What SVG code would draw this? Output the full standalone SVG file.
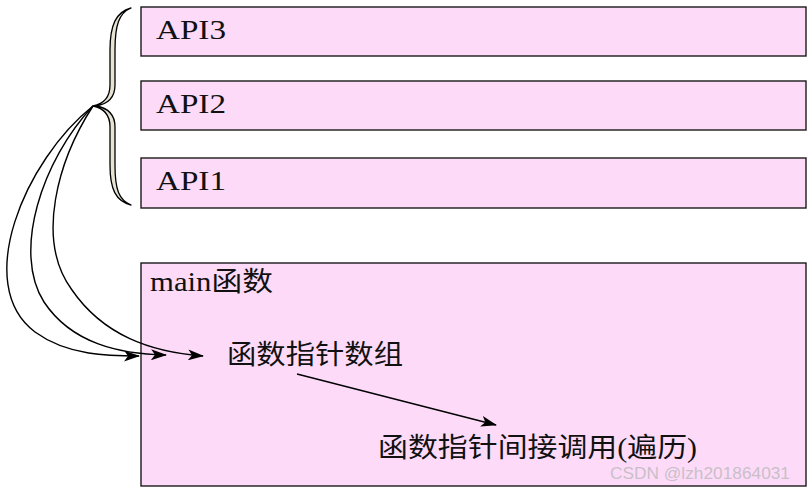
<svg xmlns="http://www.w3.org/2000/svg" width="810" height="492" viewBox="0 0 810 492">
<style>
.box{fill:#fddbf8;stroke:#1a1a1a;stroke-width:1.4}
.lbl{font-family:"Liberation Serif","Noto Serif CJK SC","Noto Sans CJK SC",serif;font-size:27px;fill:#111}
.cjk{font-family:"Liberation Serif","Noto Sans CJK SC",serif;font-size:27px;fill:#111}
.conn{fill:none;stroke:#000;stroke-width:1.4}
</style>
<defs>
<marker id="ah" viewBox="0 0 16 11" refX="15" refY="5.5" markerWidth="16" markerHeight="11" markerUnits="userSpaceOnUse" orient="auto">
<path d="M0,0 L16,5.5 L0,11 L4,5.5 Z" fill="#000"/>
</marker>
</defs>
<rect width="810" height="492" fill="#fff"/>
<g id="api3"><rect class="box" x="141" y="7" width="665" height="49"/><text class="lbl" x="156" y="39" textLength="70" lengthAdjust="spacingAndGlyphs">API3</text></g>
<g id="api2"><rect class="box" x="141" y="81" width="665" height="49"/><text class="lbl" x="156" y="113" textLength="70" lengthAdjust="spacingAndGlyphs">API2</text></g>
<g id="api1"><rect class="box" x="141" y="158" width="665" height="50"/><text class="lbl" x="156" y="190" textLength="70" lengthAdjust="spacingAndGlyphs">API1</text></g>
<g id="main"><rect class="box" x="141" y="263" width="665" height="223"/><text class="cjk" x="150" y="291" textLength="123" lengthAdjust="spacingAndGlyphs">main函数</text>
<text x="790" y="479" text-anchor="end" font-family="Liberation Sans,Arial,sans-serif" font-size="17" fill="#c8c0c8" textLength="180" lengthAdjust="spacingAndGlyphs">CSDN @lzh201864031</text></g>
<g id="array"><text class="cjk" x="227" y="364" textLength="176" lengthAdjust="spacingAndGlyphs">函数指针数组</text></g>
<g id="call"><text class="cjk" x="378" y="457" textLength="319" lengthAdjust="spacingAndGlyphs">函数指针间接调用(遍历)</text></g>
<g id="brace"><path d="M131,8 C116,12 110,25 110,50 L110,85 C110,98 103,104 93,106 C103,108 110,114 110,127 L110,165 C110,190 116,201 131,205 C119,200 115,190 115,165 L115,127 C115,115 108,108 96,106 C108,104 115,97 115,85 L115,50 C115,25 119,13 131,8 Z" fill="#e6e3d3" stroke="#000" stroke-width="1.3" stroke-linejoin="round"/></g>
<g id="connectors">
<path class="conn" marker-end="url(#ah)" d="M93,106 C25,160 -28,285 35,332 C68,356 110,356 139,356"/>
<path class="conn" marker-end="url(#ah)" d="M93,106 C42,160 12,252 44,302 C72,344 120,354 166,355"/>
<path class="conn" marker-end="url(#ah)" d="M93,106 C58,160 35,240 72,290 C103,335 150,352 203,356"/>
<path class="conn" marker-end="url(#ah)" d="M297,374 L496,425"/>
</g>
</svg>
